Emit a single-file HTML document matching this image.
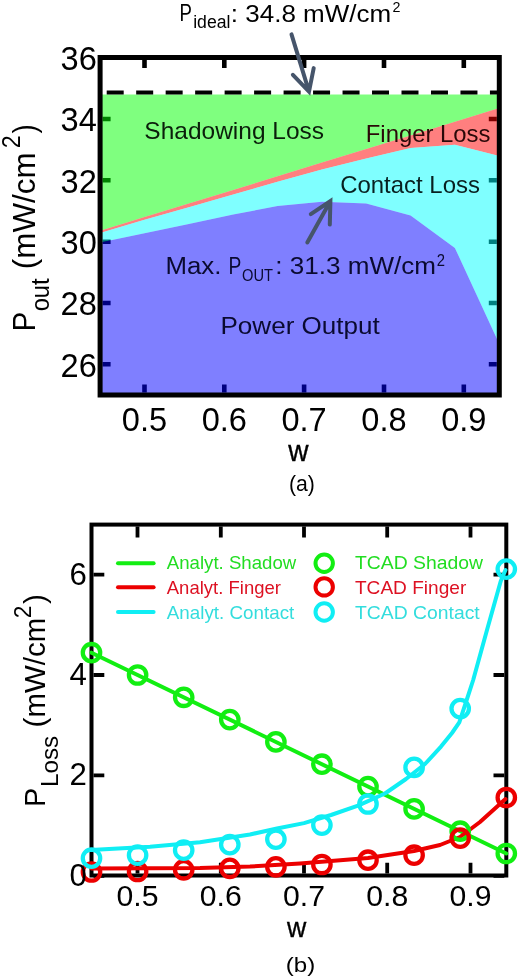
<!DOCTYPE html>
<html><head><meta charset="utf-8"><title>Power loss analysis</title>
<style>
html,body{margin:0;padding:0;background:#fff;}
svg{display:block;}
.ar{font-family:"Liberation Sans",Arial,sans-serif;}
</style></head><body>
<svg width="520" height="979" viewBox="0 0 520 979">
<rect width="520" height="979" fill="#fff"/>
<path d="M102.6 57.7H110.6M496.8 57.7H488.8M102.6 119H110.6M496.8 119H488.8M102.6 180.3H110.6M496.8 180.3H488.8M102.6 241.7H110.6M496.8 241.7H488.8M102.6 303H110.6M496.8 303H488.8M102.6 364.3H110.6M496.8 364.3H488.8M144.5 60V68M144.5 392.5V384.5M224.3 60V68M224.3 392.5V384.5M304.1 60V68M304.1 392.5V384.5M384 60V68M384 392.5V384.5M463.8 60V68M463.8 392.5V384.5" stroke="#000" stroke-width="4.6" fill="none"/>
<g fill-opacity="0.5" stroke="none">
<polygon points="100.1,94.5 499.3,94.5 499.3,108.1 454.9,121.7 410.6,135.4 366.2,149 321.9,162.6 277.5,176.3 233.2,189.9 188.8,203.5 144.5,217.1 100.1,230.8" fill="#00ff00"/>
<polygon points="100.1,230.8 144.5,217.1 188.8,203.5 233.2,189.9 277.5,176.3 321.9,162.6 366.2,149 410.6,135.4 454.9,121.7 499.3,108.1 499.3,155.9 454.9,144.7 410.6,147.9 366.2,158.5 321.9,169.5 277.5,181.8 233.2,194.5 188.8,207.2 144.5,219.8 100.1,233.1" fill="#ff0000"/>
<polygon points="100.1,233.1 144.5,219.8 188.8,207.2 233.2,194.5 277.5,181.8 321.9,169.5 366.2,158.5 410.6,147.9 454.9,144.7 499.3,155.9 499.3,344 454.9,247.9 410.6,215.4 366.2,203.5 321.9,201.8 277.5,206.1 233.2,214.6 188.8,224 144.5,233.3 100.1,242.4" fill="#00ffff"/>
<polygon points="100.1,242.4 144.5,233.3 188.8,224 233.2,214.6 277.5,206.1 321.9,201.8 366.2,203.5 410.6,215.4 454.9,247.9 499.3,344 499.3,395 100.1,395" fill="#0000ff"/>
</g>
<path d="M106.7 92.5H497" stroke="#000" stroke-width="4" stroke-dasharray="17 12.48" fill="none"/>
<rect x="100.1" y="57.5" width="399.2" height="337.5" fill="none" stroke="#000" stroke-width="5"/>
<g class="ar" font-size="32.6" fill="#000">
<text x="96.8" y="70.1" text-anchor="end">36</text>
<text x="96.8" y="131.4" text-anchor="end">34</text>
<text x="96.8" y="192.7" text-anchor="end">32</text>
<text x="96.8" y="254.1" text-anchor="end">30</text>
<text x="96.8" y="315.4" text-anchor="end">28</text>
<text x="96.8" y="376.7" text-anchor="end">26</text>
<text x="144.5" y="430.7" text-anchor="middle">0.5</text>
<text x="224.3" y="430.7" text-anchor="middle">0.6</text>
<text x="304.1" y="430.7" text-anchor="middle">0.7</text>
<text x="384" y="430.7" text-anchor="middle">0.8</text>
<text x="463.8" y="430.7" text-anchor="middle">0.9</text>
</g>
<text class="ar" x="179.59" y="21.4" font-size="23.5" fill="#000" textLength="12.41" lengthAdjust="spacingAndGlyphs">P</text>
<text class="ar" x="193.19" y="27.5" font-size="17.5" fill="#000" textLength="37.30" lengthAdjust="spacingAndGlyphs">ideal</text>
<text class="ar" x="230.81" y="21.5" font-size="23.5" fill="#000" textLength="160.39" lengthAdjust="spacingAndGlyphs">: 34.8 mW/cm</text>
<text class="ar" x="392.41" y="12.3" font-size="15" fill="#000" textLength="7.95" lengthAdjust="spacingAndGlyphs">2</text>
<text class="ar" x="144.39" y="139.0" font-size="24" fill="#0b1f0b" textLength="179.63" lengthAdjust="spacingAndGlyphs">Shadowing Loss</text>
<text class="ar" x="365.79" y="142.0" font-size="24" fill="#2a0808" textLength="124.61" lengthAdjust="spacingAndGlyphs">Finger Loss</text>
<text class="ar" x="340.20" y="192.5" font-size="24" fill="#082020" textLength="139.70" lengthAdjust="spacingAndGlyphs">Contact Loss</text>
<text class="ar" x="165.45" y="274.0" font-size="23.5" fill="#0a0a30" textLength="56.03" lengthAdjust="spacingAndGlyphs">Max.</text>
<text class="ar" x="228.39" y="274.0" font-size="23.5" fill="#0a0a30" textLength="12.85" lengthAdjust="spacingAndGlyphs">P</text>
<text class="ar" x="242.00" y="281.2" font-size="16.2" fill="#0a0a30" textLength="31.00" lengthAdjust="spacingAndGlyphs">OUT</text>
<text class="ar" x="275.36" y="273.8" font-size="23.5" fill="#0a0a30" textLength="160.59" lengthAdjust="spacingAndGlyphs">: 31.3 mW/cm</text>
<text class="ar" x="436.84" y="265.8" font-size="16" fill="#0a0a30" textLength="8.25" lengthAdjust="spacingAndGlyphs">2</text>
<text class="ar" x="220.49" y="334.2" font-size="23.5" fill="#0a0a30" textLength="159.26" lengthAdjust="spacingAndGlyphs">Power Output</text>
<text class="ar" x="289.03" y="490.8" font-size="22" fill="#000" textLength="25.89" lengthAdjust="spacingAndGlyphs">(a)</text>
<text class="ar" x="288.26" y="461.2" font-size="29" fill="#000" textLength="20.27" lengthAdjust="spacingAndGlyphs" stroke="#000" stroke-width="0.35">w</text>
<text class="ar" x="286.97" y="936.9" font-size="28.5" fill="#000" textLength="19.30" lengthAdjust="spacingAndGlyphs" stroke="#000" stroke-width="0.35">w</text>
<text class="ar" x="285.87" y="972.0" font-size="20.7" fill="#000" textLength="29.40" lengthAdjust="spacingAndGlyphs">(b)</text>
<text class="ar" x="166.80" y="568.8" font-size="18.2" fill="#22dd22" textLength="129.44" lengthAdjust="spacingAndGlyphs">Analyt. Shadow</text>
<text class="ar" x="166.79" y="593.7" font-size="18.2" fill="#dd1122" textLength="114.13" lengthAdjust="spacingAndGlyphs">Analyt. Finger</text>
<text class="ar" x="166.80" y="618.6" font-size="18.2" fill="#33dddd" textLength="127.47" lengthAdjust="spacingAndGlyphs">Analyt. Contact</text>
<text class="ar" x="354.97" y="568.8" font-size="18.2" fill="#22dd22" textLength="128.09" lengthAdjust="spacingAndGlyphs">TCAD Shadow</text>
<text class="ar" x="354.98" y="593.7" font-size="18.2" fill="#dd1122" textLength="111.27" lengthAdjust="spacingAndGlyphs">TCAD Finger</text>
<text class="ar" x="354.97" y="618.6" font-size="18.2" fill="#33dddd" textLength="124.79" lengthAdjust="spacingAndGlyphs">TCAD Contact</text>
<text class="ar" transform="rotate(-90)" x="-331.41" y="35.2" font-size="32" fill="#000" textLength="19.78" lengthAdjust="spacingAndGlyphs">P</text>
<text class="ar" transform="rotate(-90)" x="-311.35" y="49.2" font-size="25" fill="#000" textLength="32.84" lengthAdjust="spacingAndGlyphs">out</text>
<text class="ar" transform="rotate(-90)" x="-269.20" y="35.2" font-size="32" fill="#000" textLength="116.83" lengthAdjust="spacingAndGlyphs">(mW/cm</text>
<text class="ar" transform="rotate(-90)" x="-148.17" y="19.6" font-size="25" fill="#000" textLength="12.96" lengthAdjust="spacingAndGlyphs">2</text>
<text class="ar" transform="rotate(-90)" x="-133.56" y="35.2" font-size="32" fill="#000" textLength="9.33" lengthAdjust="spacingAndGlyphs">)</text>
<text class="ar" transform="rotate(-90)" x="-807.09" y="45.0" font-size="30" fill="#000" textLength="19.28" lengthAdjust="spacingAndGlyphs">P</text>
<text class="ar" transform="rotate(-90)" x="-787.04" y="58.3" font-size="24.2" fill="#000" textLength="51.15" lengthAdjust="spacingAndGlyphs">Loss</text>
<text class="ar" transform="rotate(-90)" x="-727.39" y="45.0" font-size="30" fill="#000" textLength="109.62" lengthAdjust="spacingAndGlyphs">(mW/cm</text>
<text class="ar" transform="rotate(-90)" x="-618.37" y="31.0" font-size="24.4" fill="#000" textLength="12.63" lengthAdjust="spacingAndGlyphs">2</text>
<text class="ar" transform="rotate(-90)" x="-604.02" y="45.0" font-size="30" fill="#000" textLength="9.86" lengthAdjust="spacingAndGlyphs">)</text>
<g stroke="#46556b" stroke-width="4" fill="none" stroke-linecap="round" stroke-linejoin="miter">
<path d="M291.5 34.4L309 91.6M292.9 74.8L309 91.6L313.7 68.1"/>
<path d="M307.3 242.5L330.4 201M310.8 214.2L330.4 201L329.8 224.6"/>
</g>
<path d="M93.5 875.8H104.3M504.3 875.8H493.5M93.5 775.4H104.3M504.3 775.4H493.5M93.5 675H104.3M504.3 675H493.5M93.5 574.6H104.3M504.3 574.6H493.5M137.5 526.6V537.4M137.5 873.5V862.7M220.8 526.6V537.4M220.8 873.5V862.7M304 526.6V537.4M304 873.5V862.7M387.2 526.6V537.4M387.2 873.5V862.7M470.5 526.6V537.4M470.5 873.5V862.7" stroke="#000" stroke-width="3.8" fill="none"/>
<rect x="91.5" y="524.6" width="414.8" height="350.9" fill="none" stroke="#000" stroke-width="4"/>
<g fill="none" stroke-width="4" stroke-linejoin="round" stroke-linecap="round">
<polyline points="91.5,652.7 506.3,853.5" stroke="#12ee12"/>
<polyline points="91.5,868.4 150,868.3 200,868 250,866.5 300,863.5 368,858 414,851 440,845 460,837 480,822 505.5,799" stroke="#ec0000"/>
<polyline points="91.5,850 100,849.4 150,846.8 200,842.2 250,834.5 277,828.5 304,823.1 331,815 358,805.6 385,793.5 406,779 425,764 441,746.6 452,733 459.3,722.3 466.2,701.5 473.2,680 487,630 500.7,581.3 505.5,570" stroke="#10eef4"/>
</g>
<g fill="none" stroke-width="4.3">
<circle cx="91.5" cy="652.7" r="8.7" stroke="#12ee12"/>
<circle cx="137.6" cy="675" r="8.7" stroke="#12ee12"/>
<circle cx="183.7" cy="697.3" r="8.7" stroke="#12ee12"/>
<circle cx="229.8" cy="719.6" r="8.7" stroke="#12ee12"/>
<circle cx="275.9" cy="741.9" r="8.7" stroke="#12ee12"/>
<circle cx="321.9" cy="764.2" r="8.7" stroke="#12ee12"/>
<circle cx="368" cy="786.6" r="8.7" stroke="#12ee12"/>
<circle cx="414.1" cy="808.9" r="8.7" stroke="#12ee12"/>
<circle cx="460.2" cy="831.2" r="8.7" stroke="#12ee12"/>
<circle cx="506.3" cy="853.5" r="8.7" stroke="#12ee12"/>
<circle cx="91.5" cy="872" r="8.7" stroke="#ec0000"/>
<circle cx="137.6" cy="871.5" r="8.7" stroke="#ec0000"/>
<circle cx="183.7" cy="869.8" r="8.7" stroke="#ec0000"/>
<circle cx="229.8" cy="868.3" r="8.7" stroke="#ec0000"/>
<circle cx="275.9" cy="866.8" r="8.7" stroke="#ec0000"/>
<circle cx="321.9" cy="864.5" r="8.7" stroke="#ec0000"/>
<circle cx="368" cy="860.2" r="8.7" stroke="#ec0000"/>
<circle cx="414.1" cy="855.2" r="8.7" stroke="#ec0000"/>
<circle cx="460.2" cy="838.1" r="8.7" stroke="#ec0000"/>
<circle cx="506.3" cy="797.5" r="8.7" stroke="#ec0000"/>
<circle cx="91.5" cy="858.2" r="8.7" stroke="#10eef4"/>
<circle cx="137.6" cy="855.2" r="8.7" stroke="#10eef4"/>
<circle cx="183.7" cy="850.2" r="8.7" stroke="#10eef4"/>
<circle cx="229.8" cy="844.7" r="8.7" stroke="#10eef4"/>
<circle cx="275.9" cy="839.2" r="8.7" stroke="#10eef4"/>
<circle cx="321.9" cy="825.1" r="8.7" stroke="#10eef4"/>
<circle cx="368" cy="804" r="8.7" stroke="#10eef4"/>
<circle cx="414.1" cy="767.4" r="8.7" stroke="#10eef4"/>
<circle cx="460.2" cy="708.6" r="8.7" stroke="#10eef4"/>
<circle cx="506.3" cy="569.1" r="8.7" stroke="#10eef4"/>
</g>
<g stroke-width="4" fill="none">
<path d="M118 563.3H153.6" stroke="#12ee12" stroke-linecap="round"/>
<path d="M118 587.3H153.6" stroke="#ec0000" stroke-linecap="round"/>
<path d="M118 612.1H153.6" stroke="#10eef4" stroke-linecap="round"/>
<circle cx="324.2" cy="563.2" r="8.7" stroke="#12ee12"/>
<circle cx="324.2" cy="586.9" r="8.7" stroke="#ec0000"/>
<circle cx="324.2" cy="612" r="8.7" stroke="#10eef4"/>
</g>
<g class="ar" font-size="30.2" fill="#000">
<text x="86.8" y="885.8" text-anchor="end" font-size="31.2">0</text>
<text x="86.8" y="785.4" text-anchor="end" font-size="31.2">2</text>
<text x="86.8" y="685" text-anchor="end" font-size="31.2">4</text>
<text x="86.8" y="584.6" text-anchor="end" font-size="31.2">6</text>
<text x="137.5" y="906.3" text-anchor="middle">0.5</text>
<text x="220.8" y="906.3" text-anchor="middle">0.6</text>
<text x="304" y="906.3" text-anchor="middle">0.7</text>
<text x="387.2" y="906.3" text-anchor="middle">0.8</text>
<text x="470.5" y="906.3" text-anchor="middle">0.9</text>
</g>
</svg>
</body></html>
